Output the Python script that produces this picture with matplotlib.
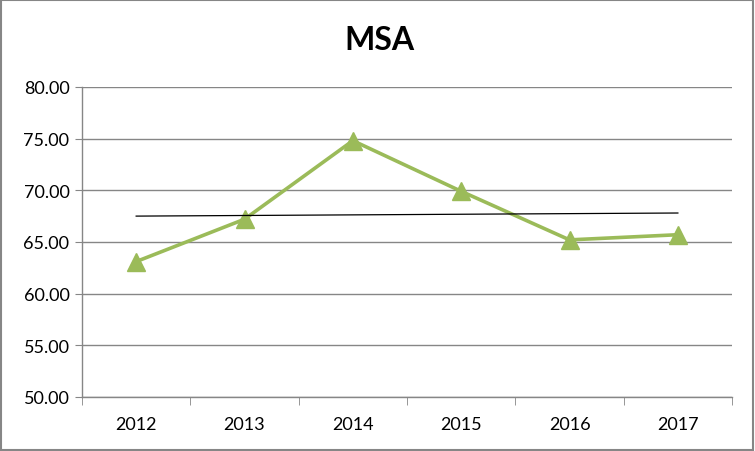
import numpy as np
import matplotlib
matplotlib.use("Agg")
import matplotlib.pyplot as plt
from matplotlib.patches import Rectangle

years = ["2012", "2013", "2014", "2015", "2016", "2017"]
msa = [63.1, 67.2, 74.8, 69.9, 65.2, 65.7]

plt.rcParams['font.family'] = ['Lato', 'DejaVu Sans']

fig = plt.figure(figsize=(7.55, 4.52), dpi=100)
ax = fig.add_axes([0.1086, 0.1195, 0.861, 0.686])

x = np.arange(len(years))
ax.plot(x, msa, color="#9BBB59", lw=2.6, marker="^", markersize=13,
        markeredgecolor="#9BBB59", zorder=3)

# linear trendline
k, b = np.polyfit(x, msa, 1)
ax.plot(x, k * x + b, color="black", lw=0.9, zorder=4)

ax.set_xlim(-0.5, len(years) - 0.5)
ax.set_ylim(50, 80)
ax.set_yticks(np.arange(50, 81, 5))
ax.set_yticklabels(["%.2f" % v for v in np.arange(50, 81, 5)])
ax.set_xticks(x)
ax.set_xticklabels(years)
ax.set_xticks(np.arange(-0.5, len(years), 1), minor=True)
ax.tick_params(axis="x", which="major", length=0, pad=14, labelsize=13)
ax.tick_params(axis="x", which="minor", length=6, color="#868686")
ax.tick_params(axis="y", length=5, color="#868686", labelsize=13, pad=4)

ax.grid(axis="y", color="#868686", lw=1)
ax.set_axisbelow(True)
for s in ["top", "right"]:
    ax.spines[s].set_visible(False)
for s in ["left", "bottom"]:
    ax.spines[s].set_color("#868686")
    ax.spines[s].set_linewidth(1)

fig.text(0.502, 0.91, "MSA", ha="center", va="center", fontsize=23, fontweight="bold")
fig.patches.append(Rectangle((0.001, 0.002), 0.997, 0.995, transform=fig.transFigure,
                             fill=False, edgecolor="#868686", lw=1.5))

fig.savefig("out.png", dpi=100)
